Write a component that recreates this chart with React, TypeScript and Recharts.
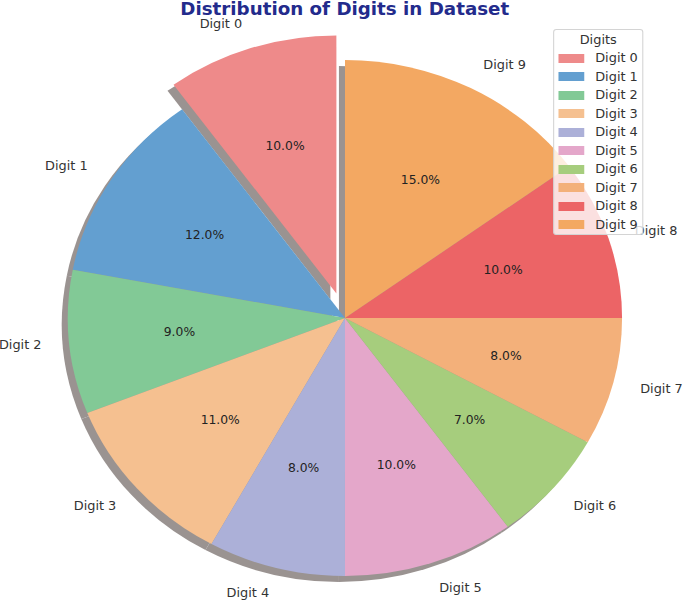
import React from "react";
import { PieChart, Pie, Cell, Legend } from "recharts";

const categories = ["Digit 0", "Digit 1", "Digit 2", "Digit 3", "Digit 4", "Digit 5", "Digit 6", "Digit 7", "Digit 8", "Digit 9"];
const values = [10, 12, 9, 11, 8, 10, 7, 8, 10, 15];
const colors = ["#ee8a8a", "#639fd0", "#82c996", "#f5c090", "#acb0d8", "#e4a7ca", "#a6cd7d", "#f3b07a", "#ec6466", "#f3a862"];
const explodedIndex = 0;
const legendTitle = "Digits";
const chartTitle = "Distribution of Digits in Dataset";

const data = categories.map((name, i) => ({ name, value: values[i] }));

const SX = 1.074;
const W = 638;
const H = 600;
const CX = 321.2;
const CY = 318;
const R = 258;
const RAD = Math.PI / 180;
const EXPLODE = 0.1 * R;
const FONT = "DejaVu Sans";
const SHADOW = "#9a9391";
const SDX = -5.6;
const SDY = 6;

const total = values.reduce((a, b) => a + b, 0);
let acc = 0;
const midAngles = values.map((v) => {
  const start = 90 + (acc / total) * 360;
  acc += v;
  const end = 90 + (acc / total) * 360;
  return (start + end) / 2;
});
const exDx = EXPLODE * Math.cos(midAngles[explodedIndex] * RAD);
const exDy = -EXPLODE * Math.sin(midAngles[explodedIndex] * RAD);

const makeLabel = (onlyExploded: boolean) => (p: any) => {
  const isEx = p.index === explodedIndex;
  if (onlyExploded !== isEx) return null;
  const cos = Math.cos(-p.midAngle * RAD);
  const sin = Math.sin(-p.midAngle * RAD);
  const lx = p.cx + 1.1 * R * cos;
  const ly = p.cy + 1.1 * R * sin;
  const px = p.cx + 0.6 * R * cos;
  const py = p.cy + 0.6 * R * sin;
  const pct = ((values[p.index] / total) * 100).toFixed(1) + "%";
  return (
    <g key={`lab-${p.index}`}>
      <text x={lx} y={ly} textAnchor={cos < 0 ? "end" : "start"} dominantBaseline="central" fontFamily={FONT} fontSize={12} fill="#333">
        {categories[p.index]}
      </text>
      <text x={px} y={py} textAnchor="middle" dominantBaseline="central" fontFamily={FONT} fontSize={11.5} fill="#222">
        {pct}
      </text>
    </g>
  );
};

const renderLegend = () => (
  <div
    style={{
      position: "relative",
      width: 84,
      height: 206,
      boxSizing: "border-box",
      border: "1px solid #d4d4d4",
      borderRadius: 3,
      background: "rgba(255,255,255,0.8)",
      fontFamily: FONT,
      fontSize: 12,
      color: "#333",
    }}
  >
    <div style={{ position: "absolute", left: 0, width: "100%", top: 10, transform: "translateY(-50%)", textAlign: "center", lineHeight: "14px" }}>
      {legendTitle}
    </div>
    {categories.map((c, i) => (
      <React.Fragment key={c}>
        <div style={{ position: "absolute", left: 3.7, top: 28 + i * 18.5 - 4.5, width: 24.2, height: 9, background: colors[i] }} />
        <div style={{ position: "absolute", left: 38.2, top: 28 + i * 18.5 - 7, lineHeight: "14px", whiteSpace: "nowrap" }}>{c}</div>
      </React.Fragment>
    ))}
  </div>
);

export default function App() {
  return (
    <div style={{ position: "absolute", left: 0, top: 0, width: W, height: H, transform: `scaleX(${SX})`, transformOrigin: "0 0" }}>
      <div
        style={{
          position: "absolute",
          left: 0,
          width: W,
          top: 1,
          textAlign: "center",
          paddingLeft: 4,
          boxSizing: "border-box",
          fontFamily: FONT,
          fontWeight: "bold",
          fontSize: 17,
          lineHeight: "17px",
          color: "#232b8c",
          zIndex: 2,
          pointerEvents: "none",
        }}
      >
        {chartTitle}
      </div>
      <PieChart width={W} height={H} margin={{ top: 0, right: 0, bottom: 0, left: 0 }}>
        <Pie data={data} dataKey="value" nameKey="name" cx={CX + SDX} cy={CY + SDY} outerRadius={R} startAngle={90} endAngle={450} stroke="none" isAnimationActive={false} labelLine={false} legendType="none">
          {data.map((d, i) => (
            <Cell key={`s-${i}`} fill={i === explodedIndex ? "transparent" : SHADOW} />
          ))}
        </Pie>
        <Pie data={data} dataKey="value" nameKey="name" cx={CX + exDx + SDX} cy={CY + exDy + SDY} outerRadius={R} startAngle={90} endAngle={450} stroke="none" isAnimationActive={false} labelLine={false} legendType="none">
          {data.map((d, i) => (
            <Cell key={`se-${i}`} fill={i === explodedIndex ? SHADOW : "transparent"} />
          ))}
        </Pie>
        <Pie data={data} dataKey="value" nameKey="name" cx={CX} cy={CY} outerRadius={R} startAngle={90} endAngle={450} stroke="none" isAnimationActive={false} labelLine={false} label={makeLabel(false)}>
          {data.map((d, i) => (
            <Cell key={`m-${i}`} fill={i === explodedIndex ? "transparent" : colors[i]} />
          ))}
        </Pie>
        <Pie data={data} dataKey="value" nameKey="name" cx={CX + exDx} cy={CY + exDy} outerRadius={R} startAngle={90} endAngle={450} stroke="none" isAnimationActive={false} labelLine={false} legendType="none" label={makeLabel(true)}>
          {data.map((d, i) => (
            <Cell key={`e-${i}`} fill={i === explodedIndex ? colors[i] : "transparent"} />
          ))}
        </Pie>
        <Legend layout="vertical" align="right" verticalAlign="top" content={renderLegend} wrapperStyle={{ left: 515, top: 29, width: 84, height: 206, right: "auto" }} />
      </PieChart>
    </div>
  );
}
